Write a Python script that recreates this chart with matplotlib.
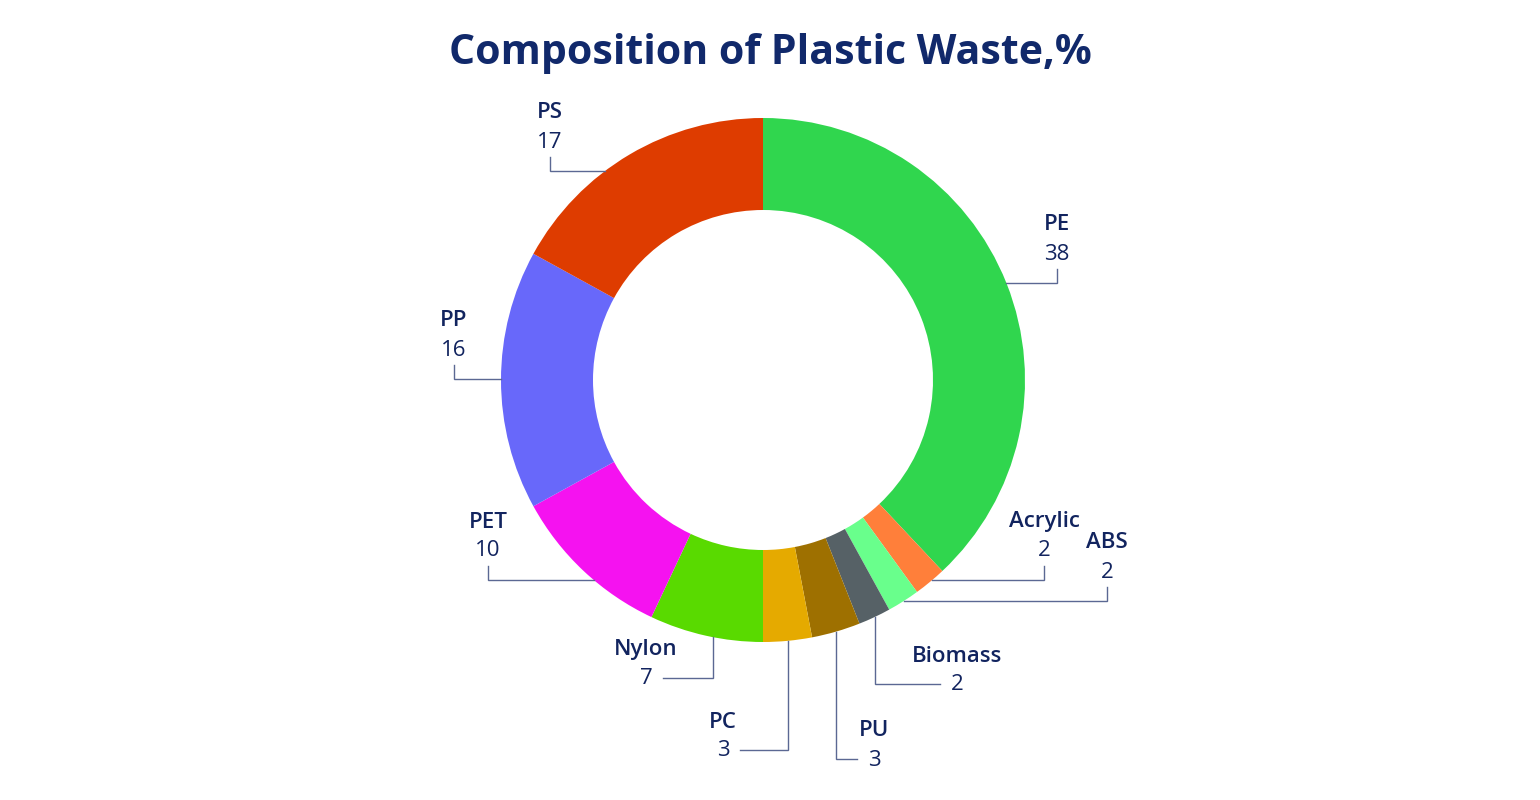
import numpy as np
import matplotlib.pyplot as plt

# data
materials = ['PE', 'Acrylic', 'ABS', 'Biomass', 'PU', 'PC', 'Nylon', 'PET', 'PP', 'PS']
shares = [38, 2, 2, 2, 3, 3, 7, 10, 16, 17]
colors = ['#30D64E', '#FF7F3A', '#69FF8C', '#566166', '#9E7000',
          '#E5AA00', '#59DA00', '#F512F0', '#6868FA', '#DE3C00']

# label layout (pixels, y measured from the top of the image)
# 'h': horizontal leader at height lvl, elbow at knee, text above the elbow
# 'v': vertical leader at x lvl, elbow at knee, text beside the end
label_layout = {
    'PE':      ('h', 283, 1057),
    'Acrylic': ('h', 580, 1044),
    'ABS':     ('h', 601, 1107),
    'Biomass': ('v', 875, 684),
    'PU':      ('v', 836, 759),
    'PC':      ('v', 788, 750),
    'Nylon':   ('v', 713, 678),
    'PET':     ('h', 580, 488),
    'PP':      ('h', 379, 454),
    'PS':      ('h', 171, 550),
}
side_text = {'Biomass': 940, 'PU': 857, 'PC': 740, 'Nylon': 663}  # end of horizontal tail

W, H = 1540, 800
cx, cy = 763, 380
r_out, ring = 262, 92
navy = '#12245F'
line_col = '#5B6893'

plt.rcParams['font.family'] = ['Open Sans', 'DejaVu Sans']

fig = plt.figure(figsize=(W / 100, H / 100), dpi=100)
ax = fig.add_axes([0, 0, 1, 1])

ax.pie(shares, colors=colors, startangle=90, counterclock=False,
       radius=r_out, center=(cx, H - cy),
       wedgeprops=dict(width=ring, linewidth=0))
ax.set_xlim(0, W)
ax.set_ylim(0, H)
ax.set_aspect('equal')
ax.axis('off')

def Y(y):
    return H - y

for name, val in zip(materials, shares):
    kind, lvl, knee = label_layout[name]
    if kind == 'h':
        dy = lvl - cy
        dx = np.sqrt(r_out ** 2 - dy ** 2)
        ax_x = cx + dx if knee > cx else cx - dx
        ax.plot([ax_x, knee, knee], [Y(lvl), Y(lvl), Y(lvl - 14)],
                color=line_col, lw=1.0, solid_joinstyle='miter')
        tx = knee
        vy = lvl - 30
    else:
        dx = lvl - cx
        dy = np.sqrt(r_out ** 2 - dx ** 2)
        end = side_text[name]
        ax.plot([lvl, lvl, end], [Y(cy + dy), Y(knee), Y(knee)],
                color=line_col, lw=1.0, solid_joinstyle='miter')
        tx = end + 17 if end > lvl else end - 17
        vy = knee
    ax.text(tx, Y(vy + 1), str(val), ha='center', va='center',
            fontsize=16, color=navy)
    ax.text(tx, Y(vy - 28), name, ha='center', va='center',
            fontsize=16, fontweight='semibold', color=navy)

ax.text(770, Y(53), 'Composition of Plastic Waste,%', ha='center', va='center',
        fontsize=29.5, fontweight='bold', color='#11296B')

fig.savefig('out.png', dpi=100, facecolor='white')
